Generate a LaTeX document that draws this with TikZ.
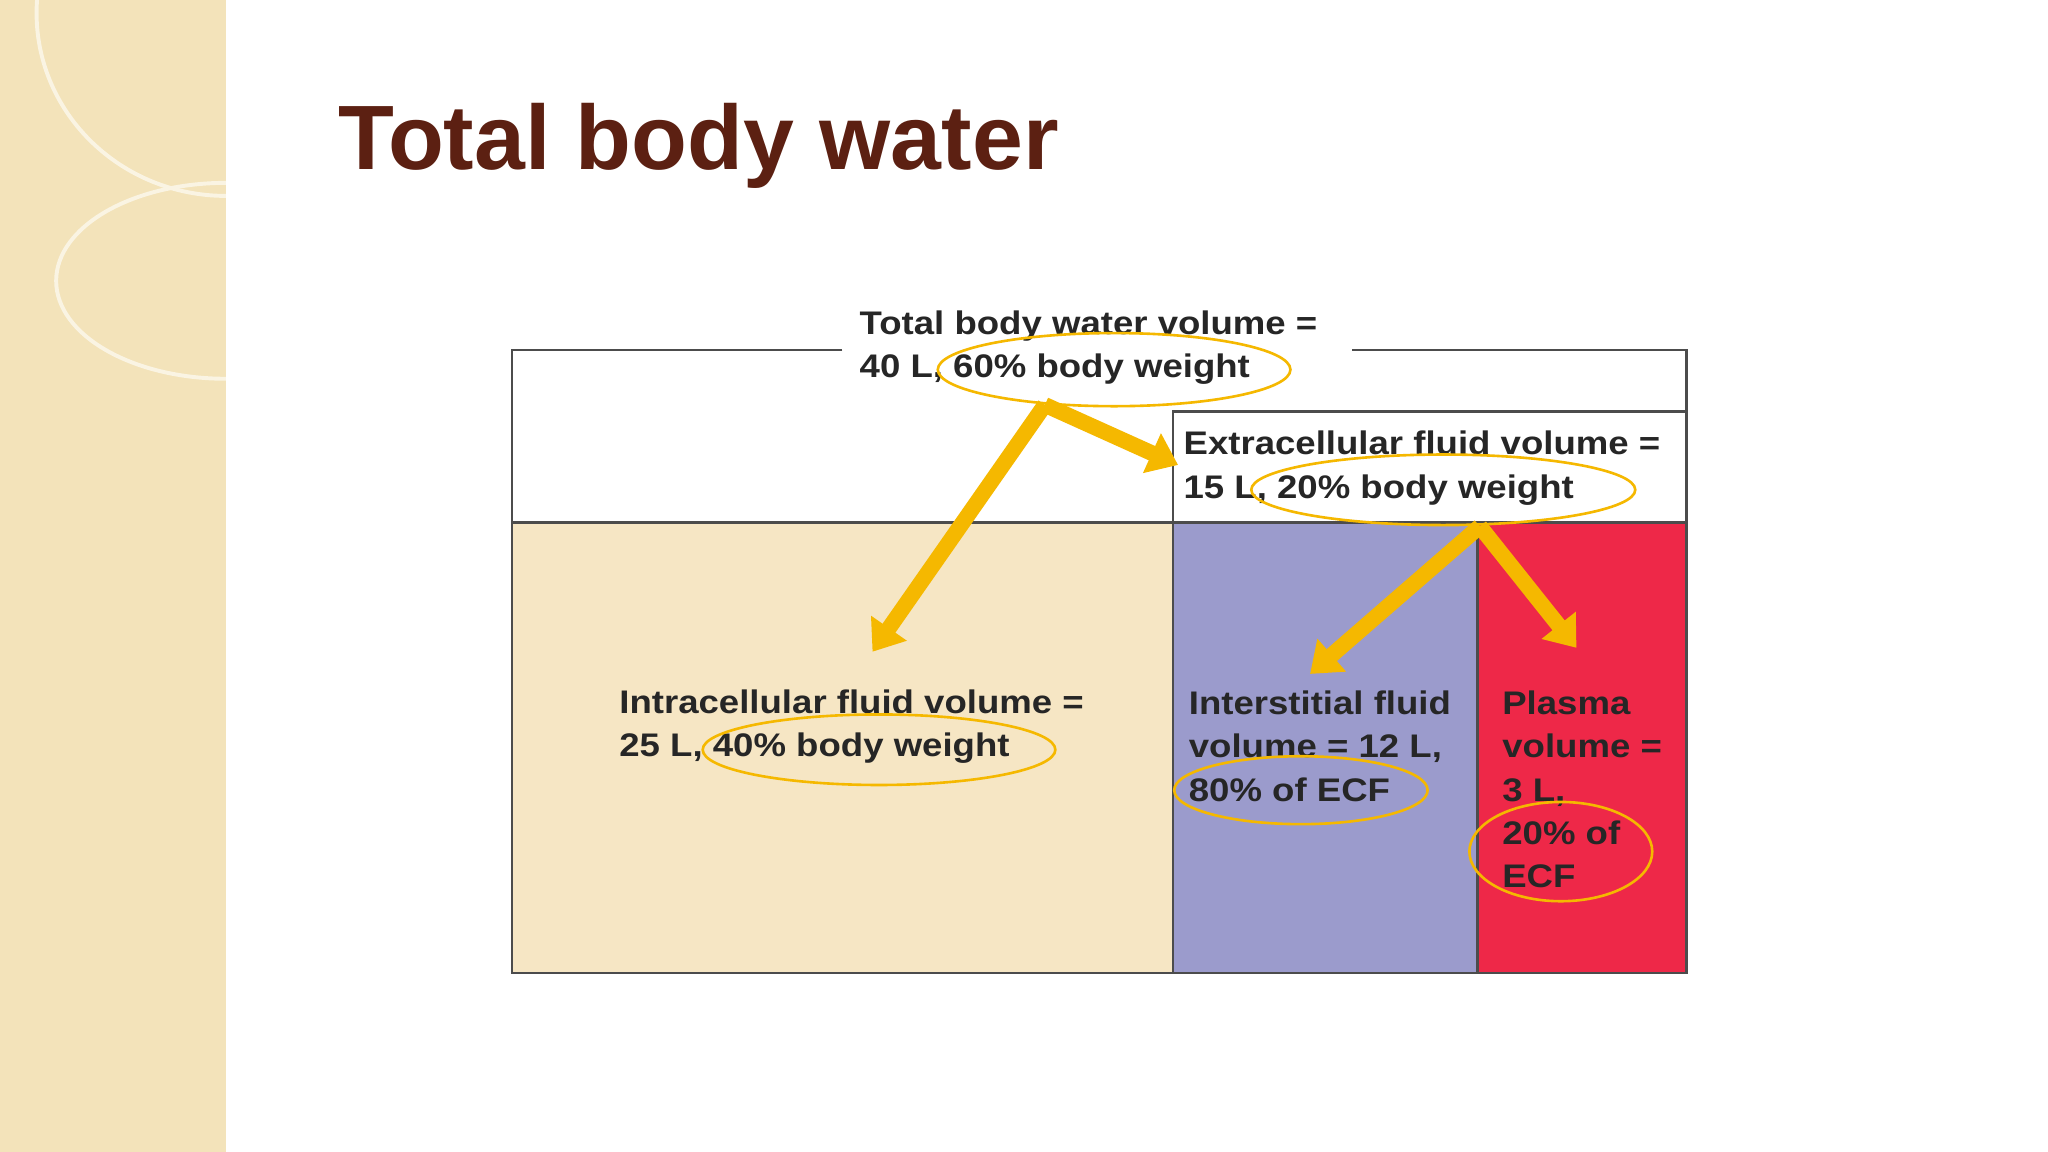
\documentclass[tikz,border=0pt]{standalone}
\usepackage{fontspec}
\setmainfont{Liberation Sans}
\usetikzlibrary{arrows.meta}
\definecolor{titlec}{RGB}{92,32,18}
\definecolor{isfc}{RGB}{155,155,204}
\definecolor{plc}{RGB}{238,40,72}
\definecolor{icfc}{RGB}{246,230,196}
\definecolor{stripc}{RGB}{243,227,186}
\definecolor{ringc}{RGB}{245,184,0}
\begin{document}
\begin{tikzpicture}[x=1pt,y=-1pt,
  lbl/.style={font=\fontsize{25}{33}\selectfont\bfseries,text=black!85,align=left,anchor=north west,inner sep=0,xscale=1.12},
  ring/.style={draw=ringc,line width=2pt},
  arr/.style={draw=ringc,line width=12pt,-{Triangle[length=22pt,width=32pt]}},
  edge/.style={draw=black!70,line width=2pt}]
\useasboundingbox (0,0) rectangle (1568,882);
\fill[white] (0,0) rectangle (1568,882);
\fill[stripc] (0,0) rectangle (173,882);
\begin{scope}
\clip (0,0) rectangle (173,882);
\draw[white!60!stripc,line width=3pt] (173,10) circle[x radius=145,y radius=140];
\draw[white!60!stripc,line width=3pt] (173,215) circle[x radius=130,y radius=75];
\end{scope}
\node[anchor=west,font=\fontsize{70}{74}\selectfont\bfseries,text=titlec] (title) at (256,112) {Total body water};
\fill[icfc] (392,400) rectangle (898,745);
\fill[isfc] (898,400) rectangle (1131,745);
\fill[plc] (1131,400) rectangle (1291,745);
\draw[edge] (645,268) -- (392,268) -- (392,745) -- (1291,745) -- (1291,268) -- (1035,268);
\draw[edge] (392,400) -- (1291,400);
\draw[edge] (898,745) -- (898,315) -- (1291,315);
\draw[edge] (1131,400) -- (1131,745);
\node[lbl] (tbw) at (658,238) {Total body water volume =\\40 L, 60\% body weight};
\node[lbl] (ecf) at (906,330) {Extracellular fluid volume =\\15 L, 20\% body weight};
\node[lbl] (icf) at (474,528) {Intracellular fluid volume =\\25 L, 40\% body weight};
\node[lbl] (isf) at (910,529) {Interstitial fluid\\volume = 12 L,\\80\% of ECF};
\node[lbl] (pl) at (1150,529) {Plasma\\volume =\\3 L,\\20\% of\\ECF};
\draw[ring] (853,283) ellipse[x radius=135,y radius=28];
\draw[ring] (1105,375) ellipse[x radius=147,y radius=27];
\draw[ring] (673,574) ellipse[x radius=135,y radius=27];
\draw[ring] (996,605) ellipse[x radius=97,y radius=26];
\draw[ring] (1195,652) ellipse[x radius=70,y radius=38];
\coordinate (a0) at (800,310);
\coordinate (a1) at (668,499);
\coordinate (a2) at (902,356);
\coordinate (b0) at (1133,403);
\coordinate (b1) at (1003,516);
\coordinate (b2) at (1207,496);
\draw[arr] (a0) -- (a1);
\draw[arr] (a0) -- (a2);
\draw[arr] (b0) -- (b1);
\draw[arr] (b0) -- (b2);
\end{tikzpicture}
\end{document}
